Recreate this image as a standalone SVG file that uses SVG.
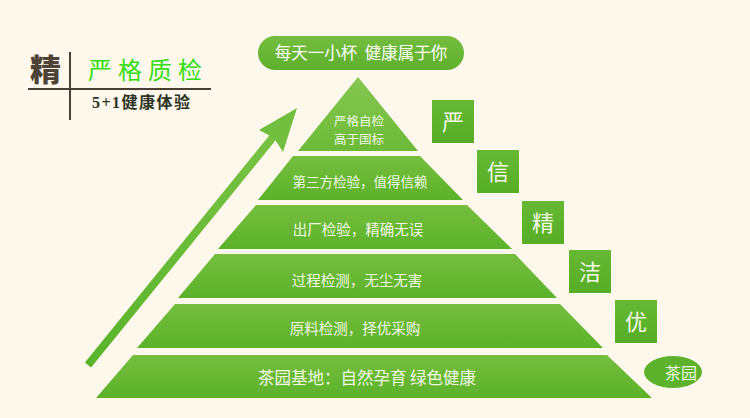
<svg xmlns="http://www.w3.org/2000/svg" width="750" height="418" viewBox="0 0 750 418">
  <defs>
    <linearGradient id="gLayer" x1="0" y1="0" x2="0" y2="1">
      <stop offset="0" stop-color="#76be3e"/>
      <stop offset="1" stop-color="#5bb22a"/>
    </linearGradient>
    <linearGradient id="gTop" x1="0" y1="0" x2="0" y2="1">
      <stop offset="0" stop-color="#86c751"/>
      <stop offset="1" stop-color="#6cba38"/>
    </linearGradient>
    <linearGradient id="gBox" x1="0" y1="0" x2="0" y2="1">
      <stop offset="0" stop-color="#66b934"/>
      <stop offset="1" stop-color="#56ad26"/>
    </linearGradient>
    <linearGradient id="gPill" x1="0" y1="0" x2="0" y2="1">
      <stop offset="0" stop-color="#74bd3e"/>
      <stop offset="1" stop-color="#5eb02c"/>
    </linearGradient>
    <linearGradient id="gArrow" x1="0" y1="1" x2="1" y2="0">
      <stop offset="0" stop-color="#5ab42a"/>
      <stop offset="1" stop-color="#78c244"/>
    </linearGradient>
  </defs>
  <style>
    .cjk { font-family: "Noto Sans CJK SC", "Noto Sans", sans-serif; }
    .lt { fill: #f1f8e2; text-anchor: middle; }
    .bx { fill: #f3f9e6; font-size: 22px; text-anchor: middle; }
    .box { fill: url(#gBox); }
    .layer { fill: url(#gLayer); }
  </style>
  <rect width="750" height="418" fill="#fdf8eb"/>

  <g id="title">
    <text class="cjk" x="30" y="81" font-size="31" font-weight="900" fill="#4e4237">精</text>
    <line x1="70" y1="52" x2="70" y2="120" stroke="#4a3f35" stroke-width="2"/>
    <line x1="28" y1="89" x2="211" y2="89" stroke="#4a3f35" stroke-width="2"/>
    <text class="cjk" x="88" y="79" font-size="24" letter-spacing="6" fill="#35dd14">严格质检</text>
    <text x="92" y="108" font-size="16" letter-spacing="1.5" font-weight="bold" fill="#2b3322" font-family="'Liberation Serif', 'Noto Sans CJK SC', serif">5+1健康体验</text>
  </g>

  <g id="slogan">
    <rect x="258" y="36" width="206" height="34" rx="17" fill="url(#gPill)"/>
    <text class="cjk" x="361" y="59" font-size="16.5" fill="#ffffff" text-anchor="middle" xml:space="preserve">每天一小杯  健康属于你</text>
  </g>

  <g id="arrow">
    <line x1="88" y1="365" x2="274" y2="136" stroke="url(#gArrow)" stroke-width="8"/>
    <polygon points="297,108 283,152 274,138 259,130" fill="#72bf40"/>
  </g>

  <g id="layer1">
    <polygon points="358,77 418,151 298,151" fill="url(#gTop)"/>
    <text class="cjk lt" x="359" y="126" font-size="12.5">严格自检</text>
    <text class="cjk lt" x="359" y="144" font-size="12.5">高于国标</text>
  </g>
  <g id="layer2">
    <polygon class="layer" points="293,156 420,156 463,200 258,200"/>
    <text class="cjk lt" x="360" y="187" font-size="13.5">第三方检验，值得信赖</text>
  </g>
  <g id="layer3">
    <polygon class="layer" points="256,205 467,205 512,249 218,249"/>
    <text class="cjk lt" x="358" y="235" font-size="14.5">出厂检验，精确无误</text>
  </g>
  <g id="layer4">
    <polygon class="layer" points="215,254 515,254 557,298 178,298"/>
    <text class="cjk lt" x="357" y="286" font-size="14.5">过程检测，无尘无害</text>
  </g>
  <g id="layer5">
    <polygon class="layer" points="175,304 560,304 603,348 137,348"/>
    <text class="cjk lt" x="355" y="334" font-size="14.5">原料检测，择优采购</text>
  </g>
  <g id="layer6">
    <polygon class="layer" points="133,355 607,355 652,398 96,398"/>
    <text class="cjk lt" x="367" y="384" font-size="16.5">茶园基地：自然孕育 绿色健康</text>
  </g>

  <g id="box-yan">
    <rect class="box" x="432" y="100" width="42" height="43"/>
    <text class="cjk bx" x="453" y="130">严</text>
  </g>
  <g id="box-xin">
    <rect class="box" x="477" y="150" width="42" height="43"/>
    <text class="cjk bx" x="498" y="180">信</text>
  </g>
  <g id="box-jing">
    <rect class="box" x="522" y="201" width="42" height="43"/>
    <text class="cjk bx" x="543" y="231">精</text>
  </g>
  <g id="box-jie">
    <rect class="box" x="569" y="250" width="42" height="43"/>
    <text class="cjk bx" x="590" y="280">洁</text>
  </g>
  <g id="box-you">
    <rect class="box" x="615" y="300" width="42" height="43"/>
    <text class="cjk bx" x="636" y="330">优</text>
  </g>

  <g id="tea-garden">
    <ellipse cx="673" cy="372" rx="29" ry="16" fill="#5cb32b"/>
    <text class="cjk" x="681" y="379" font-size="16" fill="#f1f8e2" text-anchor="middle">茶园</text>
  </g>
</svg>
